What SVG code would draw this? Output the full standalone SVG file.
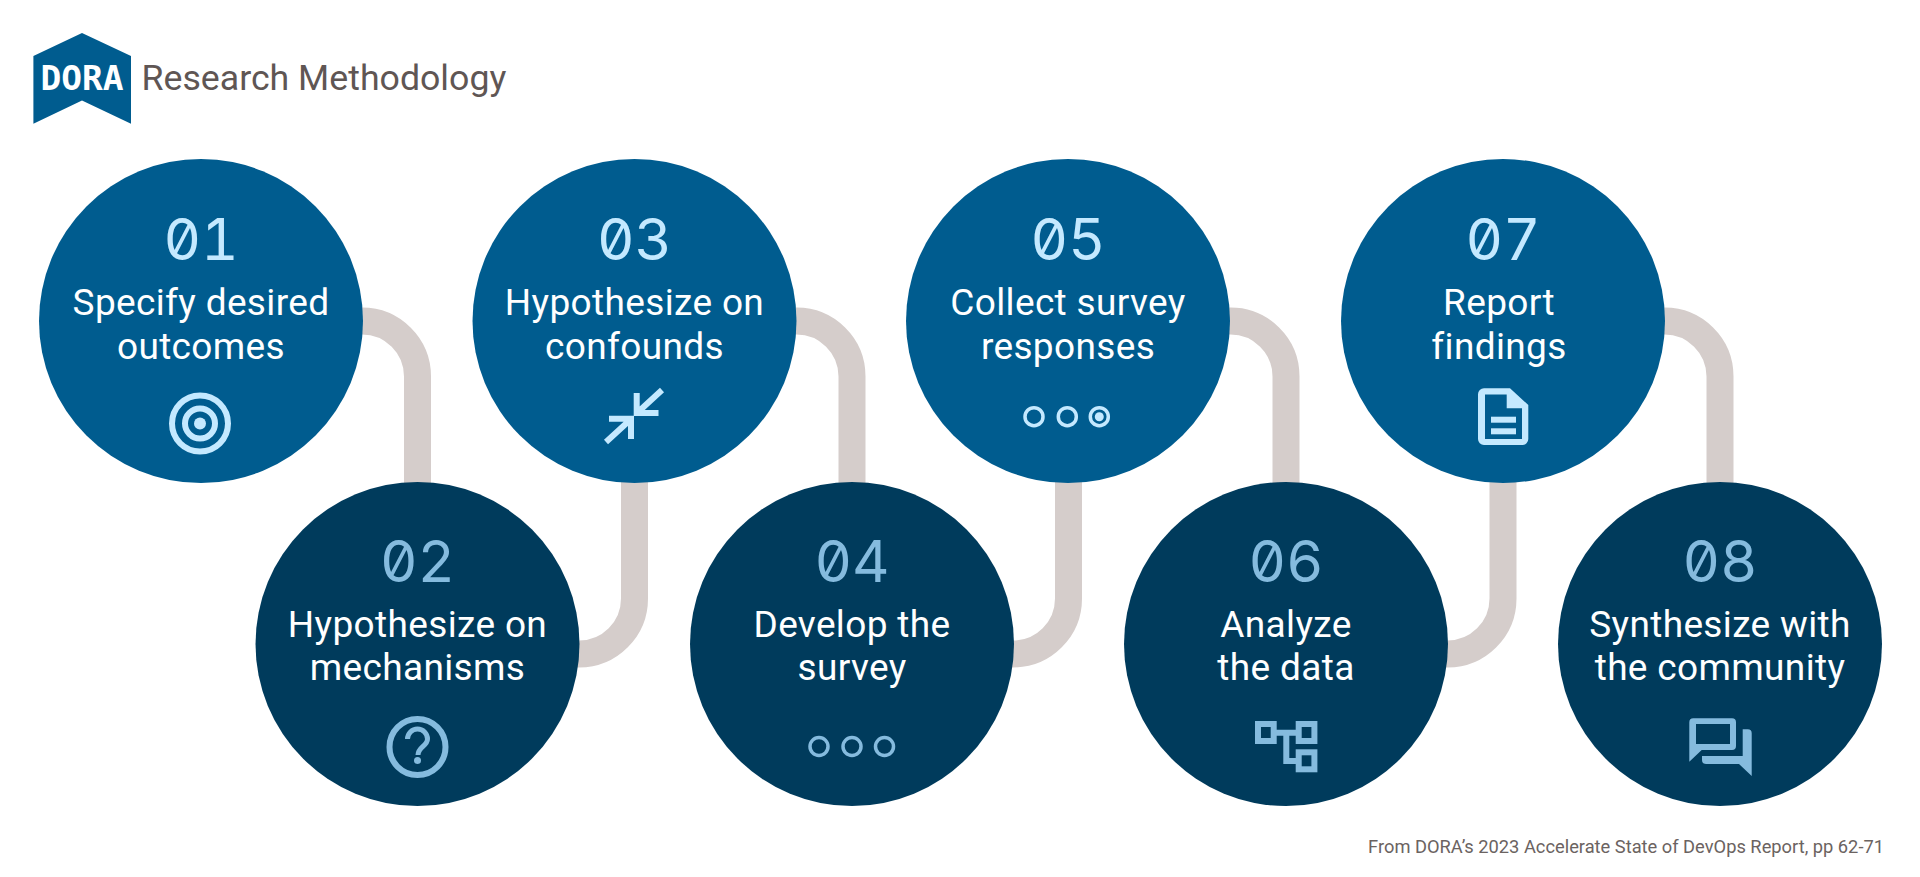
<svg xmlns="http://www.w3.org/2000/svg" width="1920" height="877" viewBox="0 0 1920 877">
<style>
.top{fill:#005c8f}.bot{fill:#003b5c}
.conn{fill:none;stroke:#d5cdcb;stroke-width:27}
.n{font-family:Inter,"Liberation Sans",sans-serif;font-weight:400;font-size:58px;text-anchor:middle;font-feature-settings:"zero","tnum";letter-spacing:0}
.l{font-family:Roboto,"Liberation Sans",sans-serif;font-weight:400;font-size:37px;text-anchor:middle;fill:#fff;letter-spacing:.35px}
.it{stroke:#c4e9ff;fill:none}.ib{stroke:#85bbde;fill:none}
.ft{fill:#c4e9ff}.fb{fill:#85bbde}
.nt{fill:#c4e9ff}.nb{fill:#85bbde}
</style>
<rect width="1920" height="877" fill="#fff"/>
<g id="logo">
<polygon points="33.400,56 82,33 131,56 131,123.700 82,100.500 33.400,123.700" fill="#005c8f"/>
<text x="82" y="89.500" font-family="'DejaVu Sans Mono',monospace" font-weight="700" font-size="34.500" text-anchor="middle" fill="#fff">DORA</text>
<text x="141.500" y="89.500" font-family="Roboto,sans-serif" font-size="35.700" fill="#5f5654">Research Methodology</text>
</g>
<g id="connectors" class="conn">
<path d="M201 321H362A55.500 55.500 0 0 1 417.500 376.500V644"/>
<path d="M417.500 654H579A55.500 55.500 0 0 0 634.500 598.500V321"/>
<path d="M634 321H796A55.500 55.500 0 0 1 852 376.500V644"/>
<path d="M852 654H1013A55.500 55.500 0 0 0 1068.500 598.500V321"/>
<path d="M1068 321H1230A55.500 55.500 0 0 1 1286 376.500V644"/>
<path d="M1286 654H1447A55.500 55.500 0 0 0 1503 598.500V321"/>
<path d="M1503 321H1664A55.500 55.500 0 0 1 1720 376.500V644"/>
</g>
<g id="node-01"><circle class="top" cx="201" cy="321" r="162"/>
<text class="n nt" x="201" y="260">01</text><text class="l" x="201" y="315">Specify desired</text><text class="l" x="201" y="359">outcomes</text>
<g class="it"><circle cx="200" cy="423.500" r="28" stroke-width="6"/><circle cx="200" cy="423.500" r="15" stroke-width="6"/></g><circle class="ft" cx="200" cy="423.500" r="6"/></g>
<g id="node-02"><circle class="bot" cx="417.500" cy="644" r="162"/>
<text class="n nb" x="417.500" y="582">02</text><text class="l" x="417.500" y="637">Hypothesize on</text><text class="l" x="417.500" y="680">mechanisms</text>
<g class="ib"><circle cx="417.500" cy="747" r="28" stroke-width="6"/><path d="M407.500 739A10 10 0 0 1 427.500 739C427.500 746 418 747 418 755" stroke-width="5"/></g><circle class="fb" cx="417.500" cy="760.500" r="3.500"/></g>
<g id="node-03"><circle class="top" cx="634.500" cy="321" r="162"/>
<text class="n nt" x="634.500" y="260">03</text><text class="l" x="634.500" y="315">Hypothesize on</text><text class="l" x="634.500" y="359">confounds</text>
<g class="it" stroke-width="6"><path d="M636.700 393V413H658.500M637 413L662 390"/><path d="M609 418.700H631V439M630 420L606 442"/></g></g>
<g id="node-04"><circle class="bot" cx="852" cy="644" r="162"/>
<text class="n nb" x="852" y="582">04</text><text class="l" x="852" y="637">Develop the</text><text class="l" x="852" y="680">survey</text>
<g class="ib" stroke-width="3.500"><circle cx="819" cy="746.500" r="9"/><circle cx="852" cy="746.500" r="9"/><circle cx="884.500" cy="746.500" r="9"/></g></g>
<g id="node-05"><circle class="top" cx="1068" cy="321" r="162"/>
<text class="n nt" x="1068" y="260">05</text><text class="l" x="1068" y="315">Collect survey</text><text class="l" x="1068" y="359">responses</text>
<g class="it" stroke-width="3.500"><circle cx="1034" cy="416.700" r="9"/><circle cx="1067.300" cy="416.700" r="9"/><circle cx="1099.300" cy="416.700" r="9"/></g><circle class="ft" cx="1099.300" cy="416.700" r="4.500"/></g>
<g id="node-06"><circle class="bot" cx="1286" cy="644" r="162"/>
<text class="n nb" x="1286" y="582">06</text><text class="l" x="1286" y="637">Analyze</text><text class="l" x="1286" y="680">the data</text>
<g class="ib" stroke-width="6"><rect x="1258" y="724" width="15.700" height="17"/><rect x="1298.700" y="724" width="15.700" height="17"/><rect x="1298.700" y="752.300" width="15.700" height="17"/><path d="M1276 732.700H1296M1286.300 732.700V761H1296"/></g></g>
<g id="node-07"><circle class="top" cx="1503" cy="321" r="162"/>
<text class="n nt" x="1503" y="260">07</text><text class="l" x="1499" y="315">Report</text><text class="l" x="1499" y="359">findings</text>
<path class="ft" fill-rule="evenodd" d="M1484 388.300H1510L1528.300 405V439a6 6 0 0 1-6 6H1484a6 6 0 0 1-6-6V394.300a6 6 0 0 1 6-6zM1485 394.500V439H1522V408.300H1506.700V394.500z"/>
<rect class="ft" x="1491" y="416.700" width="25" height="6"/><rect class="ft" x="1491" y="428.300" width="25" height="6"/></g>
<g id="node-08"><circle class="bot" cx="1720" cy="644" r="162"/>
<text class="n nb" x="1720" y="582">08</text><text class="l" x="1720" y="637">Synthesize with</text><text class="l" x="1720" y="680">the community</text>
<path class="fb" fill-rule="evenodd" d="M1693.300 718.300H1732a4 4 0 0 1 4 4V746a4 4 0 0 1-4 4H1701.700L1689.300 761.700V722.300a4 4 0 0 1 4-4zM1696 724V744H1730V724z"/>
<path class="fb" d="M1702 756H1742.700V729.300H1747.700a4 4 0 0 1 4 4V776L1739 764H1706a4 4 0 0 1-4-4z"/></g>
<text id="source" x="1884" y="853" font-family="Roboto,sans-serif" font-size="18.300" text-anchor="end" fill="#6b6361">From DORA’s 2023 Accelerate State of DevOps Report, pp 62-71</text>
</svg>
